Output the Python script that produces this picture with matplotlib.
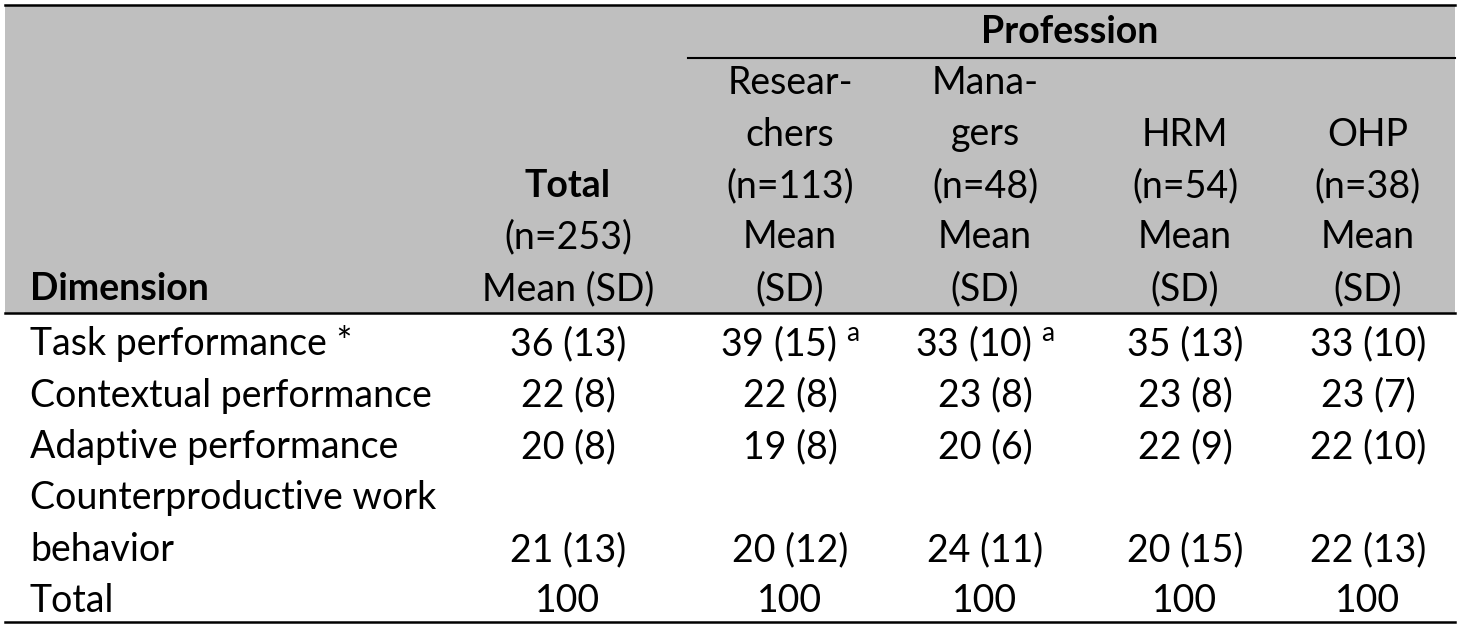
import matplotlib.pyplot as plt

plt.rcParams['font.family'] = ['Lato', 'DejaVu Sans']
plt.rcParams['mathtext.fontset'] = 'custom'
plt.rcParams['mathtext.rm'] = 'Lato'

# table content
dimensions = ['Task performance *', 'Contextual performance', 'Adaptive performance',
              'Counterproductive work\nbehavior', 'Total']
col_heads = ['Total', 'Resear-\nchers', 'Mana-\ngers', 'HRM', 'OHP']
col_n = ['(n=253)', '(n=113)', '(n=48)', '(n=54)', '(n=38)']
total_vals = ['36 (13)', '22 (8)', '20 (8)', '21 (13)', '100']
researchers = ['39 (15) $^{\\mathrm{a}}$', '22 (8)', '19 (8)', '20 (12)', '100']
managers = ['33 (10) $^{\\mathrm{a}}$', '23 (8)', '20 (6)', '24 (11)', '100']
hrm = ['35 (13)', '23 (8)', '22 (9)', '20 (15)', '100']
ohp = ['33 (10)', '23 (7)', '22 (10)', '22 (13)', '100']
columns = [total_vals, researchers, managers, hrm, ohp]

W, H = 1460, 626
fig = plt.figure(figsize=(W / 100, H / 100), dpi=100)
ax = fig.add_axes([0, 0, 1, 1])
ax.set_xlim(0, W)
ax.set_ylim(H, 0)
ax.axis('off')

fs = 27
line_h = 51.5
col_x = [568, 790, 985, 1185, 1368]
left = 5
right = 1455

# header background and rules
ax.fill_between([left, right], 5, 313, color='#bfbfbf', lw=0)
ax.plot([left, right], [5, 5], color='black', lw=1.8)
ax.plot([688, right], [58, 58], color='black', lw=1.5)
ax.plot([left, right], [313, 313], color='black', lw=1.8)
ax.plot([left, right], [622, 622], color='black', lw=1.8)

ax.text(1070, 32, 'Profession', ha='center', va='center', fontsize=fs, fontweight='bold')

# header lines from the bottom up: (SD)/Mean (SD), Mean, (n=..), name
y_sd = 289
for i, x in enumerate(col_x):
    if i == 0:
        ax.text(x, y_sd, 'Mean (SD)', ha='center', va='center', fontsize=fs)
        ax.text(x, y_sd - line_h, col_n[i], ha='center', va='center', fontsize=fs)
        ax.text(x, y_sd - 2 * line_h, col_heads[i], ha='center', va='center',
                fontsize=fs, fontweight='bold')
    else:
        ax.text(x, y_sd, '(SD)', ha='center', va='center', fontsize=fs)
        ax.text(x, y_sd - line_h, 'Mean', ha='center', va='center', fontsize=fs)
        ax.text(x, y_sd - 2 * line_h, col_n[i], ha='center', va='center', fontsize=fs)
        parts = col_heads[i].split('\n')
        for k, p in enumerate(reversed(parts)):
            ax.text(x, y_sd - (3 + k) * line_h, p, ha='center', va='center', fontsize=fs)

ax.text(30, y_sd, 'Dimension', ha='left', va='center', fontsize=fs, fontweight='bold')

# body rows
y = 344
for r, dim in enumerate(dimensions):
    lines = dim.split('\n')
    for k, p in enumerate(lines):
        ax.text(30, y + k * line_h, p, ha='left', va='center', fontsize=fs)
    y_val = y + (len(lines) - 1) * line_h
    for x, vals in zip(col_x, columns):
        ax.text(x, y_val, vals[r], ha='center', va='center', fontsize=fs)
    y += len(lines) * line_h

fig.savefig('out.png', dpi=100)
